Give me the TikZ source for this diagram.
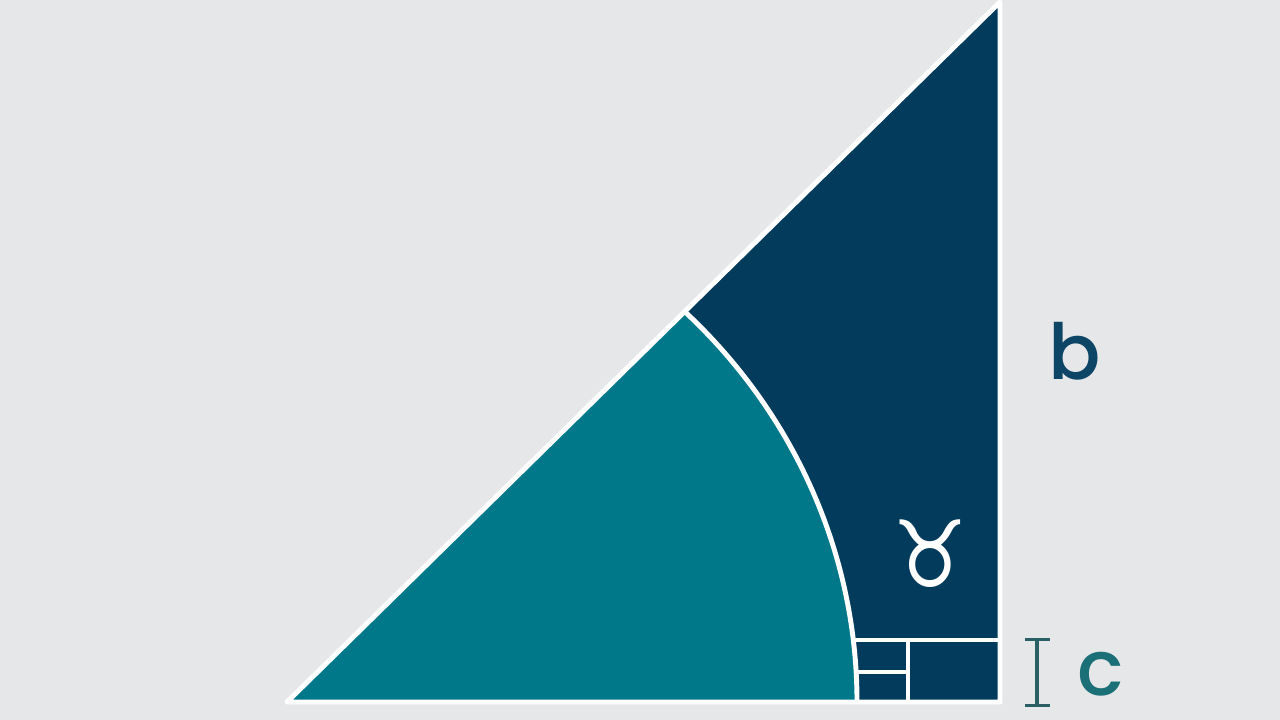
\documentclass[tikz,border=0pt]{standalone}
\usepackage{fontspec}
\setmainfont{Poppins}[BoldFont={Poppins Medium}]
\newfontfamily\symfont{DejaVu Sans}
\usetikzlibrary{calc,positioning,arrows.meta}

\definecolor{bgcol}{HTML}{E6E7E8}
\definecolor{sectorteal}{HTML}{00788A}
\definecolor{darknavy}{HTML}{033B5C}
\definecolor{labelnavy}{HTML}{0D4566}
\definecolor{labelteal}{HTML}{1B6F76}
\definecolor{barteal}{HTML}{2B5F66}

\begin{document}
\begin{tikzpicture}[x=1cm, y=1cm
        , every path/.style={ line join=round }
        , edge/.style={ draw=white, line width=1.4pt }
        , lbl/.style={ font=\bfseries\fontsize{22}{26}\selectfont, inner sep=0pt }
        , secarc/.style={ start angle=0, end angle=45.8, x radius=5.70, y radius=5.45 }
        ]

        \fill[bgcol] (0,0) rectangle (12.8,7.2);
        \useasboundingbox (0,0) rectangle (12.8,7.2);

        \coordinate (A) at (2.87,0.18);
        \coordinate (B) at (10.00,0.18);
        \coordinate (C) at (10.00,7.18);

        % the whole triangle, then the sector on top of it
        \fill[darknavy] (A) -- (B) -- (C) -- cycle;
        \fill[sectorteal] (A) -- ++(5.70,0) arc[secarc] -- cycle;

        % small cells at the right angle
        \draw[edge] (8.53,0.80) -- (10.00,0.80);
        \draw[edge] (9.08,0.80) -- (9.08,0.18);
        \draw[edge] (8.55,0.48) -- (9.08,0.48);

        \draw[edge] (A) -- (B) -- (C) -- cycle;
        \draw[edge] (A) ++(5.70,0) arc[secarc];

        \node[lbl, text=labelnavy] (b) at (10.75,3.69) {b};
        \node[lbl, text=labelteal] (c) at (11.01,0.46) {c};
        \node[font=\symfont\bfseries\fontsize{24}{28}\selectfont, text=white, inner sep=0pt,
            yscale=1.1] (g) at (9.30,1.66) {♉};

        % bracket beside c
        \coordinate (ctop) at (10.37,0.82);
        \coordinate (cbot) at (10.37,0.13);
        \draw[{Bar[width=2.5mm]}-{Bar[width=2.5mm]}, barteal, line width=0.9pt] (ctop) -- (cbot);

\end{tikzpicture}
\end{document}
